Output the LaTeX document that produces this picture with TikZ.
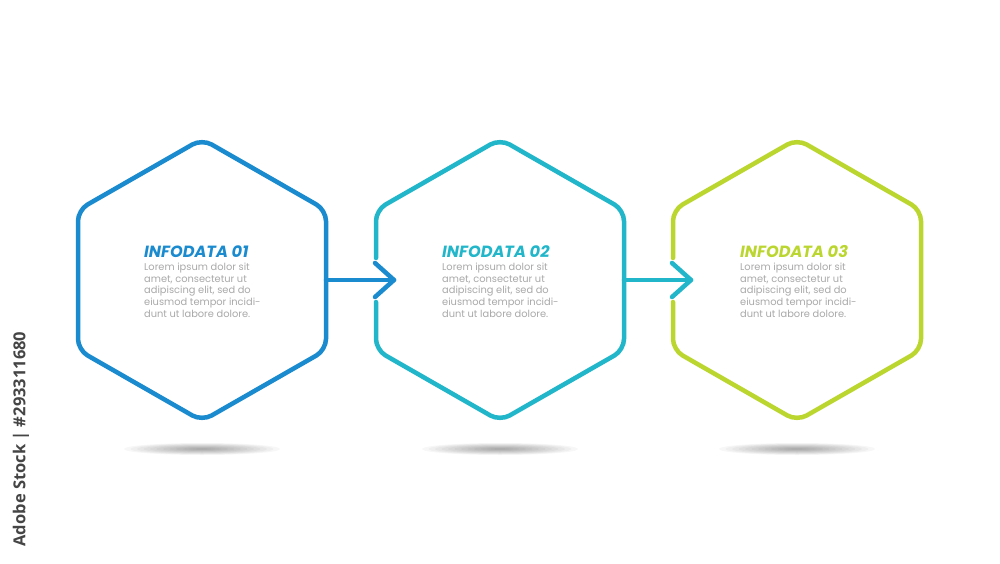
\documentclass[tikz,border=0pt]{standalone}
\usepackage{fontspec}
\setmainfont{Poppins}
\newfontfamily\wmfont{Open Sans}
\definecolor{cA}{HTML}{1B8BCF}
\definecolor{cB}{HTML}{21B6C9}
\definecolor{cC}{HTML}{BCD630}
\definecolor{txtgray}{HTML}{A9A9A9}
\definecolor{wmgray}{HTML}{454545}
\begin{document}
\begin{tikzpicture}[x=1pt,y=1pt,
  hexline/.style={line width=4.5pt, line cap=round, line join=round, rounded corners=11pt},
  arrowline/.style={line width=4.5pt, line cap=round, line join=round},
  title/.style={anchor=base west, inner sep=0pt, font=\fontsize{16.2}{18}\selectfont\bfseries\itshape},
  body/.style={anchor=north west, inner sep=0pt, align=left, text=txtgray, font=\fontsize{9.85}{11.6}\selectfont}]
\useasboundingbox (0,0) rectangle (1000,563);
\fill[white] (0,0) rectangle (1000,563);

% shadows
\foreach \cx in {202,500,797}{
  \foreach \i in {1,...,12}{
    \fill[black, opacity=0.03] (\cx,114) ellipse ({6.5*\i} and {0.5*\i});
  }
}

% hex centres
\coordinate (h1) at (202,283);
\coordinate (h2) at (500,283);
\coordinate (h3) at (797,283);

% hexagon 1 (closed)
\draw[hexline, cA] (78,283) -- (78,213) -- (202,142) -- (326,213) -- (326,353) -- (202,424) -- (78,353) -- cycle;
% hexagon 2 (gap at left)
\draw[hexline, cB] (376,261) -- (376,213) -- (500,142) -- (624,213) -- (624,353) -- (500,424) -- (376,353) -- (376,305);
% hexagon 3 (gap at left)
\draw[hexline, cC] (673,261) -- (673,213) -- (797,142) -- (921,213) -- (921,353) -- (797,424) -- (673,353) -- (673,305);

% connectors
\coordinate (a1s) at (326,283);
\coordinate (a1t) at (394,283);
\coordinate (a2s) at (624,283);
\coordinate (a2t) at (691,283);
\draw[arrowline, cA] (a1s) -- (a1t);
\draw[arrowline, cA] ([shift={(-19,17)}]a1t) -- (a1t) -- ([shift={(-19,-17)}]a1t);
\draw[arrowline, cB] (a2s) -- (a2t);
\draw[arrowline, cB] ([shift={(-19,17)}]a2t) -- (a2t) -- ([shift={(-19,-17)}]a2t);

% texts
\node[title, text=cA] (t1) at (144,306) {INFODATA 01};
\node[body] (b1) at (144,300) {Lorem ipsum dolor sit\\amet, consectetur ut\\adipiscing elit, sed do\\eiusmod tempor incidi-\\dunt ut labore dolore.};
\node[title, text=cB] (t2) at (442,306) {INFODATA 02};
\node[body] (b2) at (442,300) {Lorem ipsum dolor sit\\amet, consectetur ut\\adipiscing elit, sed do\\eiusmod tempor incidi-\\dunt ut labore dolore.};
\node[title, text=cC] (t3) at (740,306) {INFODATA 03};
\node[body] (b3) at (740,300) {Lorem ipsum dolor sit\\amet, consectetur ut\\adipiscing elit, sed do\\eiusmod tempor incidi-\\dunt ut labore dolore.};

% side label
\node[rotate=90, inner sep=0pt, text=wmgray, font=\wmfont\bfseries\fontsize{16.5}{18}\selectfont] (wm) at (21,124) {Adobe Stock | \#293311680};
\end{tikzpicture}
\end{document}
